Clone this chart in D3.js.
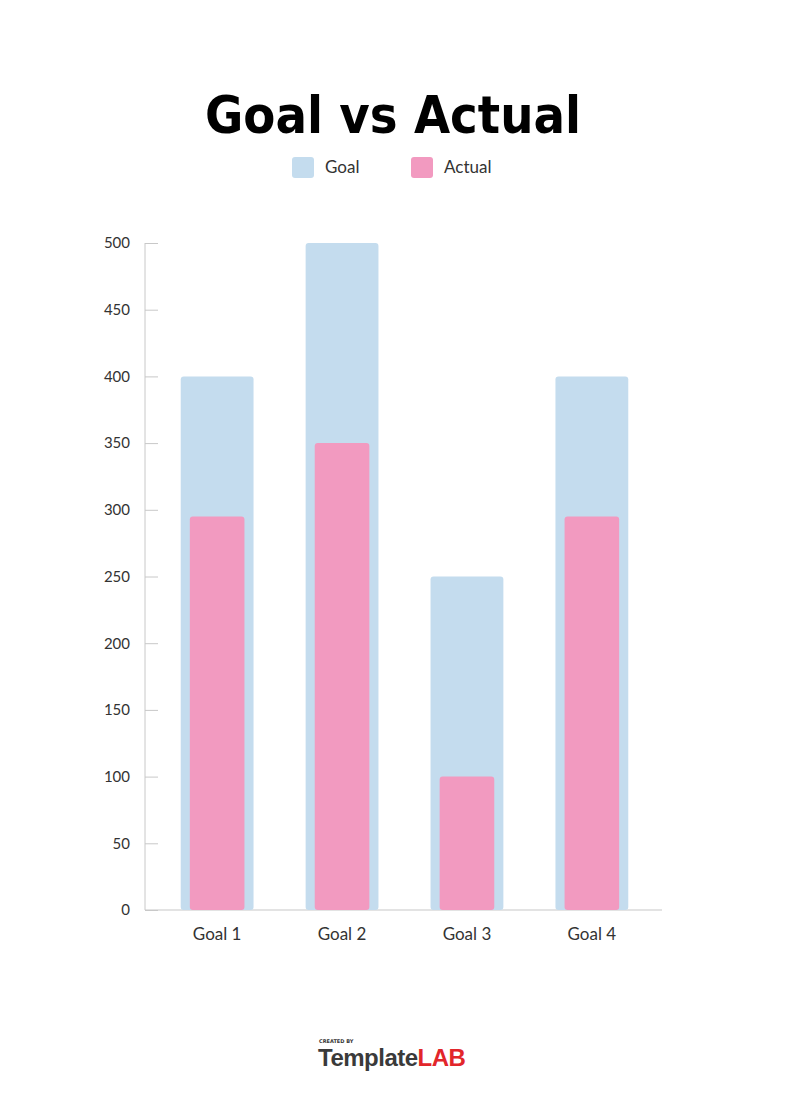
<!DOCTYPE html>
<html>
<head>
<meta charset="utf-8">
<script src="https://cdn.jsdelivr.net/npm/d3@7"></script>
<style>
  body { margin: 0; background: #fff; }
  svg { display: block; }
</style>
</head>
<body>
<div id="chart"></div>
<script>
// Chart data
const categories = ['Goal 1', 'Goal 2', 'Goal 3', 'Goal 4'];
const goalValues = [400, 500, 250, 400];
const actualValues = [295, 350, 100, 295];
const yTicks = [0, 50, 100, 150, 200, 250, 300, 350, 400, 450, 500];
const seriesNames = ['Goal', 'Actual'];

const width = 790;
const height = 1117;
const font = 'Lato, "DejaVu Sans", sans-serif';
const goalColor = '#c4dcee';
const actualColor = '#f29ac0';

const svg = d3.select('#chart').append('svg')
    .attr('width', width)
    .attr('height', height);

// Title
svg.append('text')
    .attr('x', 393)
    .attr('y', 133)
    .attr('text-anchor', 'middle')
    .attr('textLength', 376)
    .attr('lengthAdjust', 'spacingAndGlyphs')
    .style('font-family', '"DejaVu Sans", sans-serif')
    .style('font-weight', 'bold')
    .style('font-size', '52px')
    .style('fill', '#000')
    .text('Goal vs Actual');

// Legend
const legend = svg.append('g').attr('transform', 'translate(292, 157)');
const legendX = [0, 119];
seriesNames.forEach((name, i) => {
    legend.append('rect')
        .attr('x', legendX[i])
        .attr('y', 0)
        .attr('width', 22)
        .attr('height', 21)
        .attr('rx', 3)
        .attr('fill', i === 0 ? goalColor : actualColor);
    legend.append('text')
        .attr('x', legendX[i] + 33)
        .attr('y', 16)
        .style('font-family', font)
        .style('font-size', '17px')
        .style('fill', '#333')
        .text(name);
});

// Scales
const margin = { left: 145, right: 662, top: 243, bottom: 910 };

const x = d3.scaleBand()
    .domain(categories)
    .range([147, 662])
    .paddingInner(0.417)
    .paddingOuter(0.27);

const y = d3.scaleLinear()
    .domain([0, 500])
    .range([margin.bottom, margin.top]);

// Y axis: ticks pointing right, labels on the left
const yAxis = svg.append('g')
    .attr('transform', `translate(${margin.left},0)`)
    .call(d3.axisRight(y).tickValues(yTicks).tickSize(13).tickFormat(d3.format('d')));

yAxis.select('.domain').attr('stroke', '#c8c8c8').attr('d', `M0,${margin.top}V${margin.bottom}`);
yAxis.selectAll('.tick line').attr('stroke', '#c8c8c8');
yAxis.selectAll('.tick text')
    .attr('x', -15)
    .attr('text-anchor', 'end')
    .style('font-family', font)
    .style('font-size', '15px')
    .style('fill', '#333');

// Baseline
svg.append('line')
    .attr('x1', margin.left)
    .attr('x2', margin.right)
    .attr('y1', y(0))
    .attr('y2', y(0))
    .attr('stroke', '#c8c8c8')
    .attr('stroke-width', 1.2);

// Goal bars (wide, back)
svg.append('g').selectAll('rect')
    .data(categories)
    .join('rect')
    .attr('x', d => x(d))
    .attr('y', (d, i) => y(goalValues[i]))
    .attr('width', x.bandwidth())
    .attr('height', (d, i) => y(0) - y(goalValues[i]))
    .attr('rx', 3)
    .attr('fill', goalColor);

// Actual bars (narrow, front)
const inset = x.bandwidth() * 0.125;
svg.append('g').selectAll('rect')
    .data(categories)
    .join('rect')
    .attr('x', d => x(d) + inset)
    .attr('y', (d, i) => y(actualValues[i]))
    .attr('width', x.bandwidth() - 2 * inset)
    .attr('height', (d, i) => y(0) - y(actualValues[i]))
    .attr('rx', 3)
    .attr('fill', actualColor);

// X labels
svg.append('g').selectAll('text')
    .data(categories)
    .join('text')
    .attr('x', d => x(d) + x.bandwidth() / 2)
    .attr('y', 940)
    .attr('text-anchor', 'middle')
    .style('font-family', font)
    .style('font-size', '17px')
    .style('fill', '#333')
    .text(d => d);

// Footer logo
const logo = svg.append('g').attr('transform', 'translate(318, 1066)');
logo.append('text')
    .attr('x', 1)
    .attr('y', -23)
    .style('font-family', '"DejaVu Sans", sans-serif')
    .style('font-weight', 'bold')
    .style('font-size', '5px')
    .style('fill', '#333')
    .text('CREATED BY');
const brand = logo.append('text')
    .attr('x', 0)
    .attr('y', 0)
    .style('font-family', '"Liberation Sans", sans-serif')
    .style('font-weight', 'bold')
    .style('font-size', '24px')
    .style('letter-spacing', '-0.5px');
brand.append('tspan').style('fill', '#3a3a3a').text('Template');
brand.append('tspan').style('fill', '#e2262b').text('LAB');
</script>
</body>
</html>
